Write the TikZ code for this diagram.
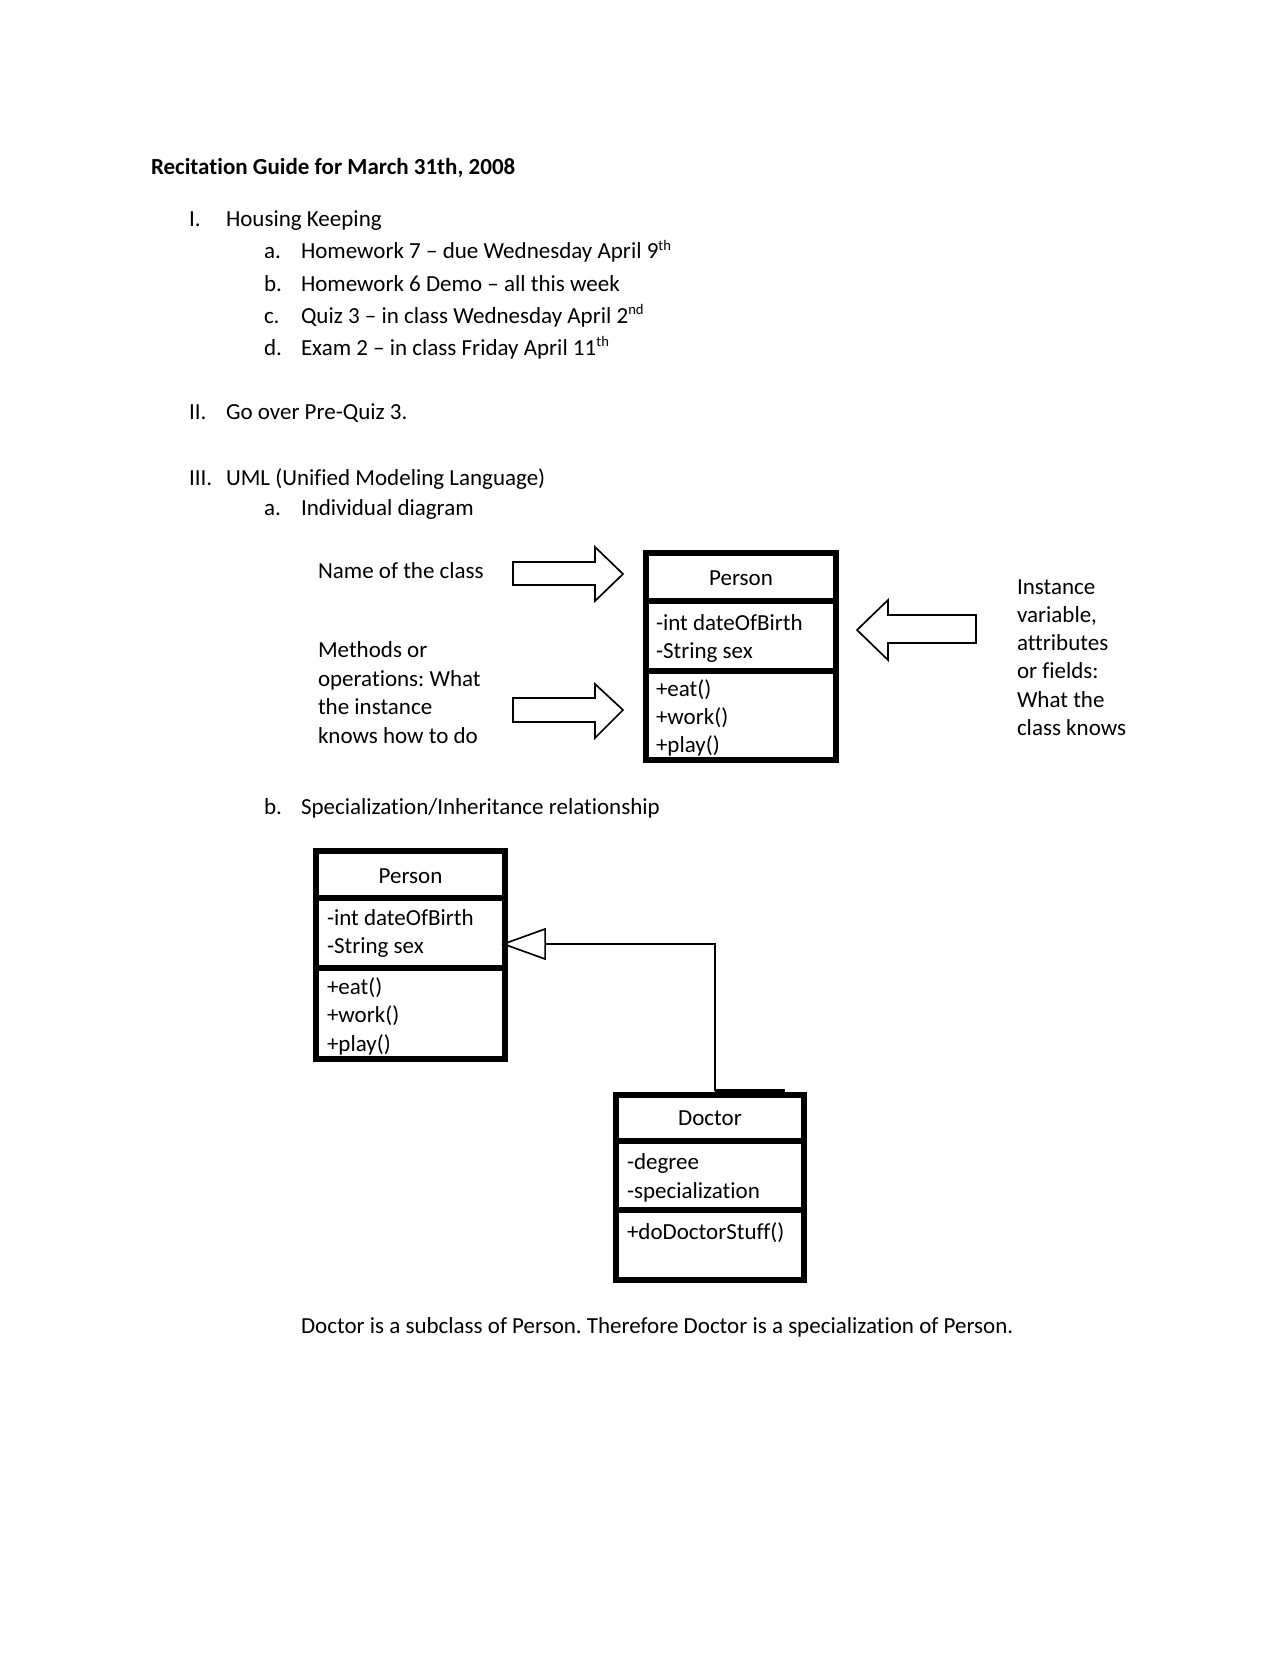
\documentclass[tikz,border=0pt]{standalone}
\usepackage{fontspec}
\setmainfont{Carlito}[Ligatures={NoCommon,NoRequired,NoContextual}]
\usetikzlibrary{arrows.meta}
\newcommand\sups[1]{\raisebox{0.36em}{\fontsize{7bp}{8bp}\selectfont #1}}
\frenchspacing
\begin{document}
\begin{tikzpicture}[x=0.478125bp,y=-0.478125bp,
  txt/.style={anchor=base west,inner sep=0pt,outer sep=0pt,font=\fontsize{11bp}{13bp}\selectfont},
  ctxt/.style={txt,anchor=base},
  ttl/.style={txt,font=\fontsize{11bp}{13bp}\selectfont\bfseries},
  classframe/.style={draw,line width=2.87bp,inner sep=0pt,minimum width=90.8bp,minimum height=98.5bp},
  divider/.style={line width=2.6bp},
  blockarrow/.style={draw,line width=0.8bp,fill=white,line join=miter},
  inherit/.style={draw,line width=0.95bp,-{Triangle[open,length=21.5bp,width=15.3bp,line width=0.8bp]}}]
\useasboundingbox[fill=white] (0,0) rectangle (1280,1656);

% Header and list
\node[ttl] (title) at (151,175) {Recitation Guide for March 31th, 2008};
\node[txt] (n1) at (189,226) {I.};
\node[txt] (t1) at (226,226) {Housing Keeping};
\node[txt] (n1a) at (264,259) {a.};
\node[txt] (t1a) at (301,259) {Homework 7 – due Wednesday April 9\sups{th}};
\node[txt] (n1b) at (264,291) {b.};
\node[txt] (t1b) at (301,291) {Homework 6 Demo – all this week};
\node[txt] (n1c) at (264,323) {c.};
\node[txt] (t1c) at (301,323) {Quiz 3 – in class Wednesday April 2\sups{nd}};
\node[txt] (n1d) at (264,355) {d.};
\node[txt] (t1d) at (301,355) {Exam 2 – in class Friday April 11\sups{th}};
\node[txt] (n2) at (189,419) {II.};
\node[txt] (t2) at (226,419) {Go over Pre-Quiz 3.};
\node[txt] (n3) at (189,485) {III.};
\node[txt] (t3) at (226,485) {UML (Unified Modeling Language)};
\node[txt] (n3a) at (264,515) {a.};
\node[txt] (t3a) at (301,515) {Individual diagram};

% Individual diagram labels
\node[txt] (lname) at (318,578) {Name of the class};
\node[txt] (lm1) at (318,657) {Methods or};
\node[txt] (lm2) at (318,686) {operations: What};
\node[txt] (lm3) at (318,714) {the instance};
\node[txt] (lm4) at (318,743) {knows how to do};
\node[txt] (li1) at (1017,594) {Instance};
\node[txt] (li2) at (1017,622) {variable,};
\node[txt] (li3) at (1017,650) {attributes};
\node[txt] (li4) at (1017,678.5) {or fields:};
\node[txt] (li5) at (1017,707) {What the};
\node[txt] (li6) at (1017,735.5) {class knows};

% Block arrows
\draw[blockarrow] (513,562) -- (595,562) -- (595,547) -- (623,574) -- (595,601) -- (595,585) -- (513,585) -- cycle;
\draw[blockarrow] (513,698) -- (595,698) -- (595,684) -- (623,710) -- (595,738) -- (595,722) -- (513,722) -- cycle;
\draw[blockarrow] (976,615) -- (888,615) -- (888,600) -- (857,630) -- (888,660) -- (888,643) -- (976,643) -- cycle;

% Upper Person class
\node[classframe] (p1) at (741,656.5) {};
\draw[divider] (p1.west |- 0,601) -- (p1.east |- 0,601);
\draw[divider] (p1.west |- 0,671) -- (p1.east |- 0,671);
\node[ctxt] (p1n) at (741,585.5) {Person};
\node[txt] (p1a1) at (656,630) {-int dateOfBirth};
\node[txt] (p1a2) at (656,658.5) {-String sex};
\node[txt] (p1m1) at (656,696.5) {+eat()};
\node[txt] (p1m2) at (656,724) {+work()};
\node[txt] (p1m3) at (656,752.5) {+play()};

% b. heading
\node[txt] (n3b) at (264,814) {b.};
\node[txt] (t3b) at (301,814) {Specialization/Inheritance relationship};

% Lower Person class
\node[classframe,minimum height=99.5bp] (p2) at (410.5,955) {};
\draw[divider] (p2.west |- 0,898) -- (p2.east |- 0,898);
\draw[divider] (p2.west |- 0,968) -- (p2.east |- 0,968);
\node[ctxt] (p2n) at (410.5,883.5) {Person};
\node[txt] (p2a1) at (327,925) {-int dateOfBirth};
\node[txt] (p2a2) at (327,953.5) {-String sex};
\node[txt] (p2m1) at (327,994.5) {+eat()};
\node[txt] (p2m2) at (327,1022.5) {+work()};
\node[txt] (p2m3) at (327,1051) {+play()};

% Doctor class
\node[classframe,minimum width=90bp,minimum height=88.4bp] (doc) at (710,1187.5) {};
\draw[divider] (doc.west |- 0,1141) -- (doc.east |- 0,1141);
\draw[divider] (doc.west |- 0,1210) -- (doc.east |- 0,1210);
\node[ctxt] (docn) at (710,1125.5) {Doctor};
\node[txt] (doca1) at (627,1169) {-degree};
\node[txt] (doca2) at (627,1198) {-specialization};
\node[txt] (docm1) at (627,1239) {+doDoctorStuff()};
\draw[line width=2bp] (715,1091.5) -- (785,1091.5);

% Inheritance connector
\coordinate (inhstart) at (715,1091);
\coordinate (inhtip) at (501,944);
\draw[inherit] (inhstart) |- (inhtip);

% Bottom sentence
\node[txt] (concl) at (301,1333) {Doctor is a subclass of Person. Therefore Doctor is a specialization of Person.};
\end{tikzpicture}
\end{document}
